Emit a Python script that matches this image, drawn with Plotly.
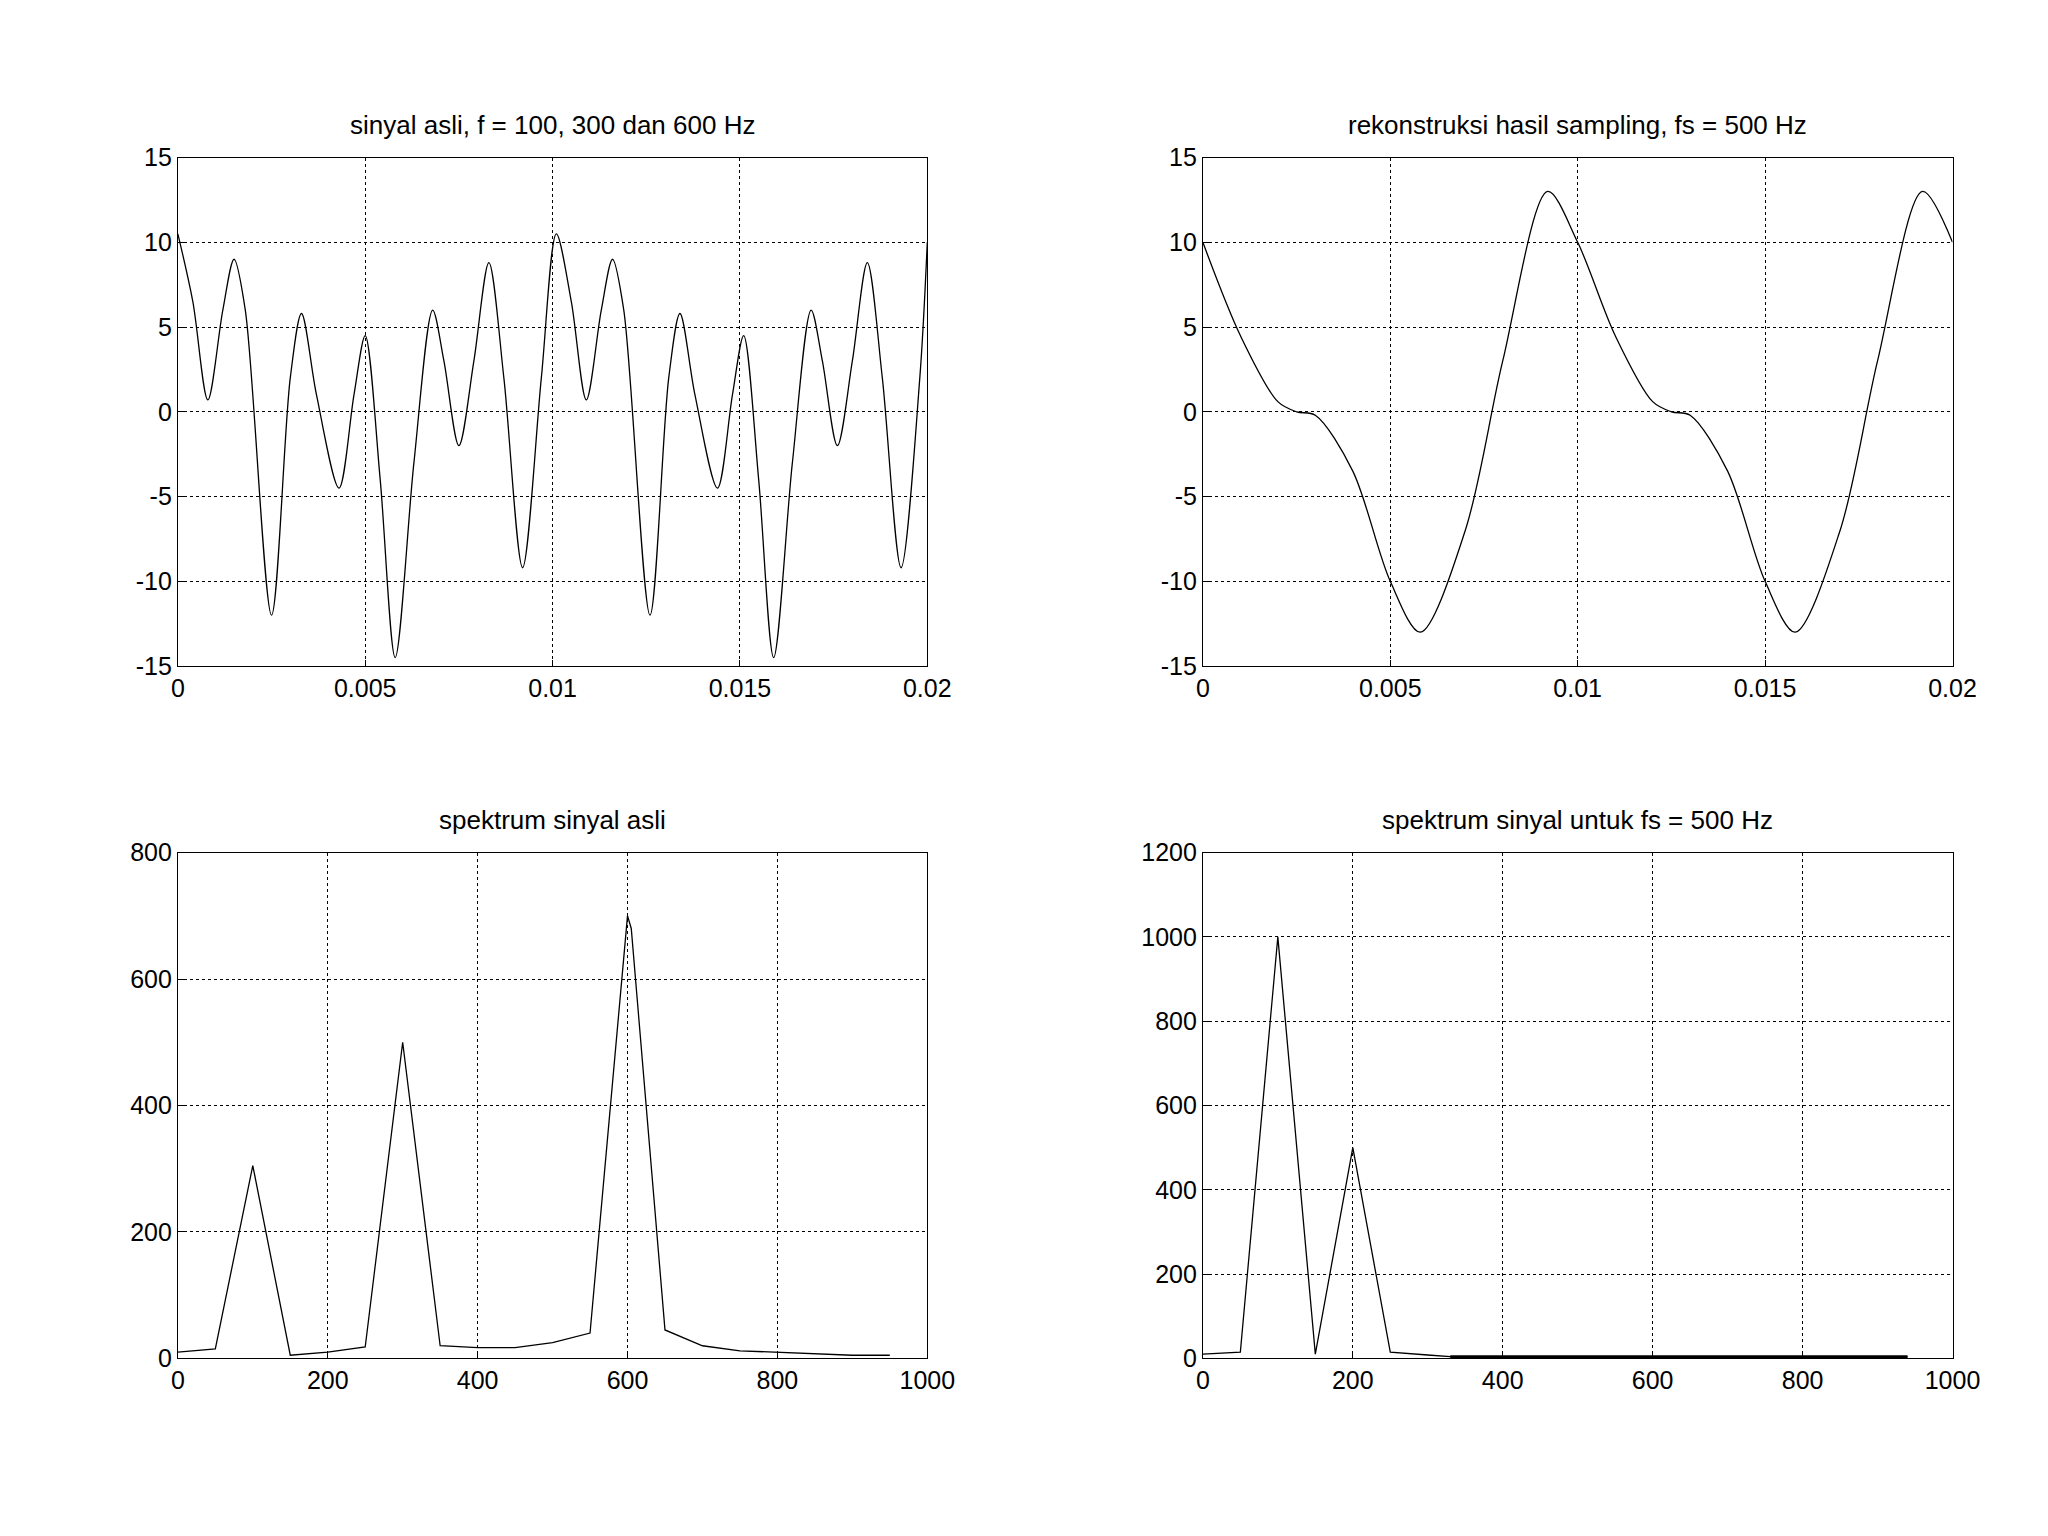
import plotly.graph_objects as go

t1 = [0, 0.0004, 0.0008, 0.0012, 0.0015, 0.0018, 0.0025, 0.003, 0.0033, 0.0037, 0.0043, 0.0047, 0.005, 0.0054, 0.0058, 0.0063, 0.0068, 0.0071, 0.0075, 0.0079, 0.0083, 0.0087, 0.0092, 0.0097, 0.0101,
      0.0105, 0.0109, 0.0113, 0.0116, 0.0119, 0.0126, 0.0131, 0.0134, 0.0138, 0.0144, 0.0148, 0.0151, 0.0155, 0.0159, 0.0164, 0.0169, 0.0172, 0.0176, 0.018, 0.0184, 0.0188, 0.0193, 0.0198, 0.02]
y1 = [10.5, 6.5, 0.7, 6, 9, 6, -12, 2, 5.8, 1, -4.5, 1, 4.5, -4, -14.5, -3, 6, 3, -2, 3, 8.8, 2, -9.2, 2, 10.5,
      6.5, 0.7, 6, 9, 6, -12, 2, 5.8, 1, -4.5, 1, 4.5, -4, -14.5, -3, 6, 3, -2, 3, 8.8, 2, -9.2, 2, 10]

t2 = [0, 0.001, 0.002, 0.0025, 0.003, 0.004, 0.005, 0.0058, 0.007, 0.008, 0.0092, 0.01,
      0.011, 0.012, 0.0125, 0.013, 0.014, 0.015, 0.0158, 0.017, 0.018, 0.0192, 0.02]
y2 = [10, 4.5, 0.6, 0, -0.2, -3.5, -10, -13, -7, 3, 13, 10,
      4.5, 0.6, 0, -0.2, -3.5, -10, -13, -7, 3, 13, 10]

f3 = [0, 50, 100, 150, 200, 250, 300, 350, 400, 450, 500, 550, 600, 605, 650, 700, 750, 800, 850, 900, 950]
y3 = [10, 15, 305, 5, 10, 18, 500, 20, 17, 17, 25, 40, 700, 680, 45, 20, 12, 10, 8, 5, 5]

f4 = [0, 50, 100, 150, 200, 250, 300, 330, 400, 500, 600, 700, 800, 900, 940]
y4 = [10, 15, 1000, 10, 500, 15, 8, 4, 4, 4, 4, 4, 4, 4, 4]

ytick_top = [-15, -10, -5, 0, 5, 10, 15]
ytick_top_text = ["-15", "-10", "-5", "0", "5", "10", "15"]

titles = ["sinyal asli, f = 100, 300 dan 600 Hz", "rekonstruksi hasil sampling, fs = 500 Hz",
          "spektrum sinyal asli", "spektrum sinyal untuk fs = 500 Hz"]

fig = go.Figure()
fig.add_trace(go.Scatter(x=t1, y=y1, mode="lines", line=dict(color="black", width=1.3, shape="spline", smoothing=0.9), xaxis="x", yaxis="y"))
fig.add_trace(go.Scatter(x=t2, y=y2, mode="lines", line=dict(color="black", width=1.3, shape="spline", smoothing=0.9), xaxis="x2", yaxis="y2"))
fig.add_trace(go.Scatter(x=f3, y=y3, mode="lines", line=dict(color="black", width=1.3), xaxis="x3", yaxis="y3"))
fig.add_trace(go.Scatter(x=f4, y=y4, mode="lines", line=dict(color="black", width=1.3), xaxis="x4", yaxis="y4"))
fig.add_trace(go.Scatter(x=f4[7:], y=y4[7:], mode="lines", line=dict(color="black", width=3), xaxis="x4", yaxis="y4"))

xd = [[0.0809, 0.4532], [0.5901, 0.9625]]
yd = [[0.5729, 0.9101], [0.1138, 0.4492]]
ax = dict(showline=True, linecolor="black", linewidth=1, mirror=True, ticks="inside", ticklen=6,
          tickcolor="black", showgrid=True, gridcolor="black", griddash="dot", gridwidth=1,
          zeroline=False, tickfont=dict(family="Liberation Sans", size=25, color="black"))
lay = {}
ranges = [([0, 0.02], [-15, 15], 0.005, 5), ([0, 0.02], [-15, 15], 0.005, 5),
          ([0, 1000], [0, 800], 200, 200), ([0, 1000], [0, 1200], 200, 200)]
anns = []
for i in range(4):
    r, c = divmod(i, 2)
    sfx = "" if i == 0 else str(i + 1)
    xr, yr, dx, dy = ranges[i]
    lay["xaxis" + sfx] = dict(ax, domain=xd[c], range=xr, dtick=dx, tick0=0, anchor="y" + sfx)
    ya = dict(ax, domain=yd[r], range=yr, dtick=dy, tick0=0, anchor="x" + sfx)
    if i < 2:
        ya.update(tickmode="array", tickvals=ytick_top, ticktext=ytick_top_text)
    lay["yaxis" + sfx] = ya
    anns.append(dict(text=titles[i], x=sum(xd[c]) / 2, y=yd[r][1], xref="paper", yref="paper",
                     xanchor="center", yanchor="bottom", yshift=16, showarrow=False,
                     font=dict(family="Liberation Sans", size=26, color="black")))
fig.update_layout(**lay, annotations=anns, showlegend=False, width=2048, height=1536,
                  margin=dict(l=0, r=0, t=0, b=0), plot_bgcolor="white", paper_bgcolor="white")
fig.write_html("out.html")
